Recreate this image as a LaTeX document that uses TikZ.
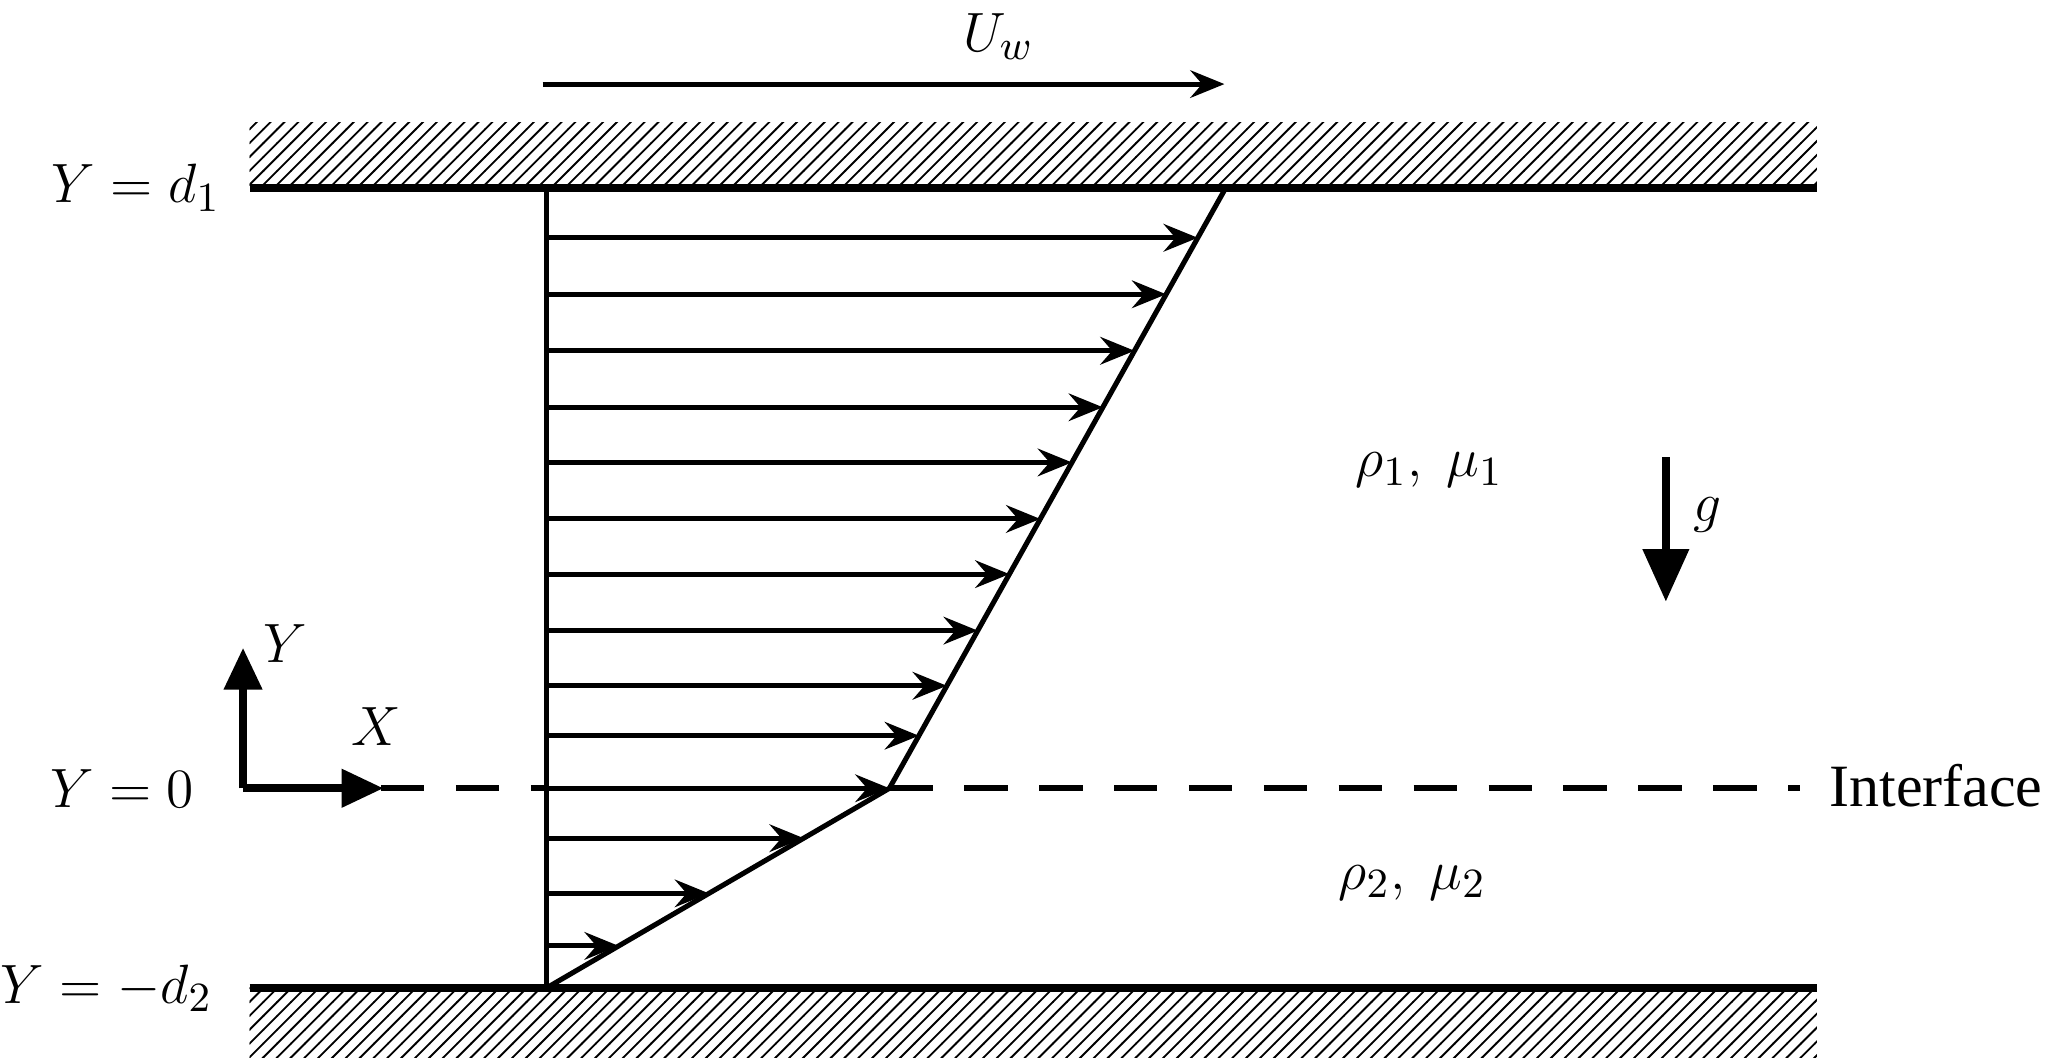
\documentclass[tikz,border=0pt]{standalone}
\usepackage{fontspec}
\setmainfont{Liberation Serif}
\usetikzlibrary{patterns,arrows.meta}
\begin{document}
\begin{tikzpicture}[x=0.1mm,y=-0.1mm,font=\fontsize{13}{15}\selectfont,
  vel/.style={line width=1.1pt,-{Stealth[length=2.6mm,width=2.1mm,inset=0.9mm]}},
  wall/.style={pattern=north east lines,draw=none},
  bigarrow/.style={line width=1.8pt,-{Triangle[length=3.2mm,width=2.8mm]}}]
\useasboundingbox (0,0) rectangle (1568,805);
% walls
\fill[wall] (190,93) rectangle (1383,143);
\draw[line width=1.8pt] (190,143) -- (1383,143);
\fill[wall] (190,752) rectangle (1383,805);
\draw[line width=1.8pt] (190,752) -- (1383,752);
% wall velocity
\coordinate (uws) at (413,64); \coordinate (uwe) at (932,64);
\draw[vel] (uws) -- (uwe);
\node (uw) at (760,28) {$U_w$};
% profile
\coordinate (ptop) at (416,143); \coordinate (pbot) at (416,752);
\coordinate (etop) at (933,143); \coordinate (eint) at (677,600);
\draw[line width=1.1pt] (ptop) -- (pbot);
\draw[line width=1.1pt] (etop) -- (eint) -- (pbot);
\foreach \y in {181,224,267,310,352,395,437,480,522,560}{
  \pgfmathsetmacro{\xe}{933-(\y-143)/457*256}
  \draw[vel] (416,\y) -- (\xe,\y);}
\foreach \y in {600,638,680,720}{
  \pgfmathsetmacro{\xe}{416+(752-\y)/152*261}
  \draw[vel] (416,\y) -- (\xe,\y);}
% interface
\coordinate (o) at (185,600);
\coordinate (dl) at (290,600);
\coordinate (dr) at (1370,600);
\draw[line width=1.3pt,dash pattern=on 3.3mm off 2.4mm] (dl) -- (416,600);
\draw[line width=1.3pt,dash pattern=on 3.3mm off 2.4mm] (eint) -- (dr);
\node[anchor=west] (intf) at (1380,598) {Interface};
% axes
\draw[bigarrow] (o) -- (185,493);
\draw[bigarrow] (o) -- (292,600);
\node (ay) at (217,490) {$Y$};
\node (ax) at (286,553) {$X$};
% labels
\node[anchor=east] (l1) at (180,143) {$Y=d_1$};
\node[anchor=east] (l0) at (160,600) {$Y=0$};
\node[anchor=east] (l2) at (174,752) {$Y=-d_2$};
\node (f1) at (1088,358) {$\rho_1,\ \mu_1$};
\node (f2) at (1075,672) {$\rho_2,\ \mu_2$};
% gravity
\draw[line width=1.8pt,-{Triangle[length=4mm,width=3.4mm]}] (1268,348) -- (1268,458);
\node (g) at (1300,392) {$g$};
\end{tikzpicture}
\end{document}
